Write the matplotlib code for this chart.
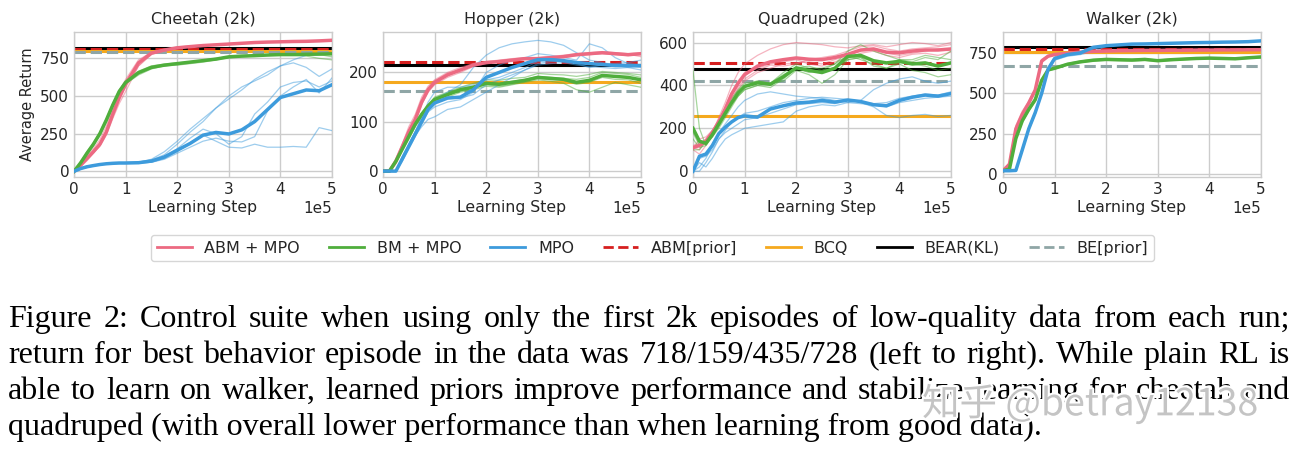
import numpy as np
import matplotlib.pyplot as plt
from matplotlib.lines import Line2D
import matplotlib.patheffects as pe

# learning steps (in units of 1e5)
steps = [0, 0.125, 0.25, 0.375, 0.5, 0.625, 0.75, 0.875, 1.0,
         1.25, 1.5, 1.75, 2.0, 2.25, 2.5, 2.75, 3.0, 3.25, 3.5, 3.75, 4.0, 4.25, 4.5, 4.75, 5.0]

titles = ['Cheetah (2k)', 'Hopper (2k)', 'Quadruped (2k)', 'Walker (2k)']

# ---- Cheetah ----
cheetah_abm = [0, 40, 85, 130, 180, 260, 380, 490, 580, 720, 785, 805, 820, 828, 835, 840, 845, 850, 855, 858, 860, 862, 863, 866, 870]
cheetah_abm_runs = [
    [0, 30, 70, 120, 170, 250, 360, 470, 560, 700, 775, 800, 815, 825, 832, 838, 843, 848, 852, 856, 858, 860, 862, 864, 868],
    [0, 50, 100, 150, 210, 300, 420, 530, 610, 740, 790, 810, 825, 832, 838, 843, 848, 852, 857, 860, 862, 864, 866, 868, 872],
    [0, 45, 80, 125, 165, 240, 350, 450, 530, 700, 780, 800, 818, 826, 834, 840, 845, 850, 854, 857, 860, 861, 862, 865, 869],
]
cheetah_bm = [0, 55, 120, 180, 250, 340, 440, 530, 590, 655, 690, 705, 715, 725, 735, 745, 760, 765, 768, 772, 775, 775, 777, 778, 780]
cheetah_bm_runs = [
    [0, 60, 130, 190, 260, 350, 450, 540, 600, 665, 700, 712, 720, 728, 738, 750, 762, 768, 770, 774, 777, 778, 779, 780, 782],
    [0, 50, 110, 170, 240, 330, 430, 520, 580, 640, 680, 700, 705, 715, 725, 740, 755, 760, 765, 770, 772, 773, 775, 776, 760],
    [0, 55, 120, 185, 255, 345, 445, 535, 590, 660, 695, 700, 712, 722, 732, 742, 758, 764, 767, 771, 774, 770, 765, 750, 740],
]
cheetah_mpo = [0, 18, 30, 38, 45, 50, 53, 55, 55, 57, 68, 95, 140, 185, 240, 258, 248, 275, 330, 410, 490, 515, 540, 535, 575]
cheetah_mpo_runs = [
    [0, 15, 25, 35, 42, 48, 50, 52, 55, 60, 80, 130, 200, 280, 350, 420, 480, 540, 610, 660, 700, 740, 770, 775, 785],
    [0, 20, 35, 40, 45, 50, 52, 55, 58, 62, 75, 110, 180, 260, 330, 420, 500, 560, 600, 640, 700, 720, 690, 630, 680],
    [0, 18, 30, 38, 45, 50, 53, 55, 55, 55, 60, 80, 120, 160, 200, 220, 200, 195, 230, 400, 500, 560, 610, 520, 620],
    [0, 20, 32, 40, 48, 52, 55, 57, 55, 55, 60, 85, 130, 190, 240, 200, 160, 155, 180, 160, 160, 165, 160, 290, 270],
    [0, 15, 28, 36, 45, 50, 55, 56, 55, 58, 70, 100, 150, 220, 280, 250, 180, 230, 380, 460, 560, 590, 600, 560, 600],
]

# ---- Hopper ----
hopper_abm = [0, 0, 20, 50, 80, 105, 140, 165, 180, 195, 205, 215, 220, 222, 225, 228, 228, 230, 232, 236, 238, 240, 238, 236, 238]
hopper_abm_runs = [
    [0, 0, 25, 55, 90, 115, 150, 172, 185, 200, 210, 218, 222, 225, 228, 230, 230, 232, 235, 238, 240, 242, 240, 238, 240],
    [0, 0, 15, 45, 75, 100, 135, 160, 175, 190, 200, 212, 218, 220, 222, 226, 226, 228, 230, 234, 236, 238, 236, 234, 236],
    [0, 0, 20, 50, 80, 105, 140, 168, 182, 198, 206, 214, 220, 224, 226, 228, 229, 231, 233, 237, 238, 240, 239, 237, 232],
]
hopper_bm = [0, 0, 20, 45, 70, 95, 115, 132, 145, 155, 165, 170, 178, 176, 180, 184, 190, 188, 186, 180, 184, 194, 192, 190, 185]
hopper_bm_runs = [
    [0, 0, 18, 42, 65, 90, 110, 128, 140, 150, 160, 165, 172, 170, 175, 180, 185, 182, 178, 165, 160, 170, 180, 175, 170],
    [0, 0, 22, 48, 72, 98, 118, 135, 150, 160, 170, 178, 185, 184, 188, 190, 198, 196, 195, 192, 196, 202, 200, 198, 195],
    [0, 0, 20, 45, 70, 95, 115, 130, 142, 155, 162, 168, 175, 172, 176, 182, 188, 185, 184, 176, 180, 190, 186, 185, 178],
    [0, 0, 20, 46, 72, 96, 116, 134, 148, 158, 168, 172, 180, 178, 182, 186, 192, 190, 188, 186, 190, 200, 198, 196, 190],
]
hopper_mpo = [0, 0, 0, 25, 50, 75, 100, 125, 138, 148, 150, 165, 190, 200, 210, 218, 226, 226, 224, 220, 218, 216, 214, 214, 214]
hopper_mpo_runs = [
    [0, 0, 0, 25, 55, 80, 105, 130, 145, 160, 175, 210, 235, 250, 258, 262, 265, 262, 255, 240, 225, 220, 215, 210, 212],
    [0, 0, 0, 20, 45, 70, 95, 120, 130, 140, 145, 160, 200, 215, 225, 230, 238, 235, 230, 225, 258, 250, 230, 218, 215],
    [0, 0, 0, 28, 52, 78, 102, 125, 140, 150, 148, 155, 175, 185, 195, 205, 215, 218, 220, 215, 212, 210, 208, 210, 205],
    [0, 0, 0, 22, 48, 72, 90, 105, 110, 125, 130, 145, 160, 175, 190, 205, 218, 222, 224, 222, 218, 215, 212, 214, 210],
    [0, 0, 0, 30, 55, 80, 110, 140, 160, 170, 170, 175, 185, 190, 200, 210, 222, 225, 222, 218, 210, 215, 218, 220, 225],
]

# ---- Quadruped ----
quad_abm = [110, 120, 140, 180, 230, 290, 360, 410, 450, 490, 510, 520, 528, 522, 520, 530, 545, 565, 570, 555, 552, 560, 565, 565, 570]
quad_abm_runs = [
    [100, 80, 120, 180, 250, 320, 400, 460, 500, 540, 570, 590, 600, 595, 590, 580, 575, 585, 590, 580, 590, 600, 595, 585, 600],
    [120, 130, 150, 190, 220, 270, 330, 380, 420, 460, 480, 500, 505, 510, 500, 520, 540, 560, 565, 550, 540, 550, 560, 570, 560],
    [110, 100, 140, 170, 230, 300, 370, 420, 460, 480, 500, 510, 520, 500, 490, 510, 530, 550, 560, 540, 530, 545, 550, 540, 555],
    [105, 150, 160, 190, 240, 280, 340, 390, 430, 470, 495, 490, 500, 520, 530, 540, 560, 580, 585, 570, 560, 570, 575, 580, 590],
]
quad_bm = [200, 140, 130, 170, 220, 270, 320, 365, 395, 412, 405, 440, 482, 470, 460, 480, 535, 540, 515, 505, 512, 500, 505, 490, 505]
quad_bm_runs = [
    [470, 200, 120, 160, 210, 260, 310, 350, 380, 400, 390, 430, 480, 490, 470, 500, 560, 590, 560, 540, 520, 510, 530, 520, 560],
    [150, 110, 120, 170, 230, 290, 340, 380, 410, 420, 410, 420, 470, 450, 410, 450, 520, 530, 490, 480, 500, 470, 460, 440, 450],
    [180, 120, 130, 160, 200, 250, 300, 350, 380, 400, 410, 460, 500, 480, 480, 500, 540, 520, 500, 480, 510, 500, 490, 470, 480],
    [100, 100, 140, 180, 230, 280, 320, 370, 400, 420, 410, 450, 480, 460, 470, 480, 520, 530, 510, 500, 520, 520, 540, 530, 520],
]
quad_mpo = [0, 70, 80, 120, 175, 205, 230, 250, 258, 252, 290, 305, 318, 322, 330, 322, 332, 325, 310, 305, 330, 345, 355, 350, 362]
quad_mpo_runs = [
    [0, 20, 60, 120, 180, 220, 260, 300, 330, 360, 370, 360, 350, 345, 340, 330, 320, 330, 380, 410, 430, 440, 420, 410, 420],
    [0, 0, 40, 90, 150, 190, 230, 250, 270, 280, 300, 320, 330, 340, 345, 340, 335, 320, 300, 260, 250, 260, 265, 255, 260],
    [0, 60, 70, 100, 150, 180, 200, 220, 240, 250, 270, 290, 310, 315, 320, 315, 330, 325, 315, 320, 340, 350, 360, 355, 370],
    [0, 40, 20, 60, 110, 150, 170, 185, 200, 210, 220, 230, 280, 300, 310, 305, 320, 315, 310, 300, 320, 330, 340, 345, 350],
]

# ---- Walker ----
walker_abm = [20, 60, 280, 370, 440, 520, 700, 730, 740, 748, 755, 760, 762, 764, 765, 766, 766, 767, 767, 768, 768, 769, 769, 770, 770]
walker_abm_runs = [
    [20, 50, 260, 350, 430, 510, 690, 725, 738, 746, 753, 758, 760, 762, 763, 764, 765, 766, 766, 767, 767, 768, 768, 769, 769],
    [20, 70, 300, 390, 450, 530, 710, 735, 742, 750, 757, 762, 764, 766, 767, 768, 768, 768, 769, 769, 770, 770, 771, 771, 772],
]
walker_bm = [20, 30, 220, 330, 400, 460, 580, 645, 655, 680, 695, 705, 710, 708, 706, 710, 702, 708, 712, 716, 718, 716, 714, 720, 725]
walker_bm_runs = [
    [20, 28, 210, 320, 390, 450, 570, 640, 650, 675, 690, 700, 705, 702, 700, 705, 698, 703, 708, 712, 714, 712, 710, 716, 720],
    [20, 32, 230, 340, 410, 470, 590, 650, 660, 685, 700, 710, 715, 714, 712, 715, 706, 713, 716, 720, 722, 720, 718, 724, 730],
]
walker_mpo = [20, 20, 22, 150, 280, 380, 500, 650, 715, 740, 750, 785, 795, 800, 805, 806, 808, 810, 812, 814, 815, 817, 818, 820, 825]
walker_mpo_runs = [
    [20, 20, 22, 140, 270, 370, 490, 640, 705, 730, 740, 760, 790, 798, 803, 805, 807, 809, 811, 813, 814, 816, 817, 819, 823],
    [20, 20, 24, 160, 290, 390, 510, 660, 725, 735, 745, 775, 792, 802, 806, 808, 809, 811, 813, 815, 816, 818, 819, 821, 826],
]

# offline baselines (cheetah, hopper, quadruped, walker)
abm_prior = [815, 221, 506, 775]
bcq = [802, 181, 257, 758]
bear_kl = [822, 216, 477, 790]
be_prior = [790, 162, 419, 670]

ylims = [(-38, 925), (-12, 282), (-27, 649), (-19, 880)]
yticks = [[0, 250, 500, 750], [0, 100, 200], [0, 200, 400, 600], [0, 250, 500, 750]]

c_abm = '#ec6a82'
c_bm = '#4fae3c'
c_mpo = '#3d9bdc'
c_prior = '#d61f1f'
c_bcq = '#f5a91e'
c_bear = '#000000'
c_be = '#8fa6a6'

plt.rcParams.update({
    'font.family': 'DejaVu Sans',
    'font.size': 11,
    'axes.edgecolor': '#cccccc',
    'axes.linewidth': 1.0,
    'axes.grid': True,
    'grid.color': '#cccccc',
    'grid.linewidth': 1.0,
    'text.color': '#262626',
    'axes.labelcolor': '#262626',
    'xtick.color': '#262626',
    'ytick.color': '#262626',
    'xtick.major.size': 0,
    'ytick.major.size': 0,
})

fig = plt.figure(figsize=(12.97, 4.61), dpi=100)
lefts = [0.0571, 0.2953, 0.5343, 0.7733]

all_data = [
    (cheetah_abm, cheetah_abm_runs, cheetah_bm, cheetah_bm_runs, cheetah_mpo, cheetah_mpo_runs),
    (hopper_abm, hopper_abm_runs, hopper_bm, hopper_bm_runs, hopper_mpo, hopper_mpo_runs),
    (quad_abm, quad_abm_runs, quad_bm, quad_bm_runs, quad_mpo, quad_mpo_runs),
    (walker_abm, walker_abm_runs, walker_bm, walker_bm_runs, walker_mpo, walker_mpo_runs),
]

x = np.array(steps) * 1e5

for i in range(4):
    ax = fig.add_axes([lefts[i], 0.616, 0.1989, 0.3146])
    abm, abm_runs, bm, bm_runs, mpo, mpo_runs = all_data[i]

    # baselines
    ax.axhline(bear_kl[i], color=c_bear, lw=2.2, zorder=2)
    ax.axhline(abm_prior[i], color=c_prior, lw=2.2, ls='--', zorder=2)
    ax.axhline(bcq[i], color=c_bcq, lw=2.2, zorder=2)
    ax.axhline(be_prior[i], color=c_be, lw=2.2, ls='--', zorder=2)

    # individual runs
    for r in abm_runs:
        ax.plot(x, r, color=c_abm, lw=0.9, alpha=0.5, zorder=3)
    for r in bm_runs:
        ax.plot(x, r, color=c_bm, lw=0.9, alpha=0.5, zorder=3)
    for r in mpo_runs:
        ax.plot(x, r, color=c_mpo, lw=0.9, alpha=0.5, zorder=3)

    # means
    ax.plot(x, abm, color=c_abm, lw=2.5, zorder=4)
    ax.plot(x, bm, color=c_bm, lw=2.5, zorder=4)
    ax.plot(x, mpo, color=c_mpo, lw=2.5, zorder=4)

    ax.set_xlim(0, 5e5)
    ax.set_ylim(*ylims[i])
    ax.set_xticks(np.arange(0, 6) * 1e5)
    ax.set_yticks(yticks[i])
    ax.ticklabel_format(style='sci', axis='x', scilimits=(0, 0))
    ax.set_title(titles[i], fontsize=11.5, pad=6)
    ax.set_xlabel('Learning Step', fontsize=11.3, labelpad=2)
    if i == 0:
        ax.set_ylabel('Average Return', fontsize=10.5)

handles = [
    Line2D([], [], color=c_abm, lw=2),
    Line2D([], [], color=c_bm, lw=2),
    Line2D([], [], color=c_mpo, lw=2),
    Line2D([], [], color=c_prior, lw=2, ls='--'),
    Line2D([], [], color=c_bcq, lw=2),
    Line2D([], [], color=c_bear, lw=2),
    Line2D([], [], color=c_be, lw=2, ls='--'),
]
labels = ['ABM + MPO', 'BM + MPO', 'MPO', 'ABM[prior]', 'BCQ', 'BEAR(KL)', 'BE[prior]']
fig.legend(handles, labels, loc='center', bbox_to_anchor=(0.503, 0.462), ncol=7,
           fontsize=11.5, frameon=True, edgecolor='#cccccc', fancybox=True,
           columnspacing=1.8, handlelength=2.2, borderpad=0.35)

# caption, justified like the paper (last line left aligned)
caption = [
    'Figure 2: Control suite when using only the first 2k episodes of low-quality data from each run;',
    'return for best behavior episode in the data was 718/159/435/728 (left to right). While plain RL is',
    'able to learn on walker, learned priors improve performance and stabilize learning for cheetah and',
    'quadruped (with overall lower performance than when learning from good data).',
]
baselines_px = [327, 363, 399, 435]
W, H = 1297, 461
left_px, right_px = 8, 1290
cap_font = dict(family='Liberation Serif', fontsize=23, color='black', va='baseline', ha='left')
renderer = fig.canvas.get_renderer()
for k, (line, yb) in enumerate(zip(caption, baselines_px)):
    if k == len(caption) - 1:
        fig.text(left_px / W, 1 - yb / H, line, **cap_font)
        continue
    words = line.split(' ')
    widths = []
    for w in words:
        t = fig.text(0, 0, w, **cap_font)
        widths.append(t.get_window_extent(renderer).width)
        t.remove()
    gap = (right_px - left_px - sum(widths)) / (len(words) - 1)
    xpos = left_px
    for w, wd in zip(words, widths):
        fig.text(xpos / W, 1 - yb / H, w, **cap_font)
        xpos += wd + gap

wm = fig.text(922 / W, 1 - 404 / H, '知乎 @betray12138', family=['Noto Sans CJK SC', 'DejaVu Sans'],
              fontsize=27, color='#c4c4c4', ha='left', va='center')
wm.set_path_effects([pe.withStroke(linewidth=3, foreground='white')])

fig.savefig('out.png', dpi=100)
